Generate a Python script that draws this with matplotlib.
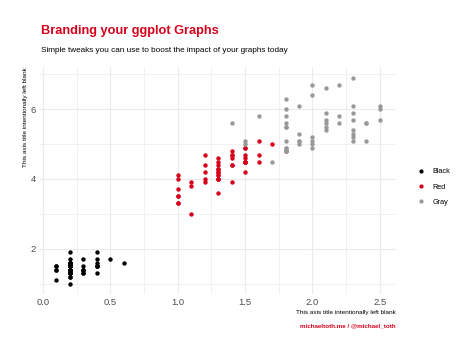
import matplotlib
matplotlib.use("Agg")
import matplotlib.pyplot as plt
from matplotlib.ticker import MultipleLocator
from matplotlib.lines import Line2D

plt.rcParams['font.family'] = ['Liberation Sans', 'DejaVu Sans']

# iris petal width (x) / petal length (y)
setosa_w = [0.2, 0.2, 0.2, 0.2, 0.2, 0.4, 0.3, 0.2, 0.2, 0.1, 0.2, 0.2, 0.1, 0.1, 0.2, 0.4, 0.4,
            0.3, 0.3, 0.3, 0.2, 0.4, 0.2, 0.5, 0.2, 0.2, 0.4, 0.2, 0.2, 0.2, 0.2, 0.4, 0.1, 0.2,
            0.2, 0.2, 0.2, 0.1, 0.2, 0.2, 0.3, 0.3, 0.2, 0.6, 0.4, 0.3, 0.2, 0.2, 0.2, 0.2]
setosa_l = [1.4, 1.4, 1.3, 1.5, 1.4, 1.7, 1.4, 1.5, 1.4, 1.5, 1.5, 1.6, 1.4, 1.1, 1.2, 1.5, 1.3,
            1.4, 1.7, 1.5, 1.7, 1.5, 1.0, 1.7, 1.9, 1.6, 1.6, 1.5, 1.4, 1.6, 1.6, 1.5, 1.5, 1.4,
            1.5, 1.2, 1.3, 1.4, 1.3, 1.5, 1.3, 1.3, 1.3, 1.6, 1.9, 1.4, 1.6, 1.4, 1.5, 1.4]
versi_w = [1.4, 1.5, 1.5, 1.3, 1.5, 1.3, 1.6, 1.0, 1.3, 1.4, 1.0, 1.5, 1.0, 1.4, 1.3, 1.4, 1.5,
           1.0, 1.5, 1.1, 1.8, 1.3, 1.5, 1.2, 1.3, 1.4, 1.4, 1.7, 1.5, 1.0, 1.1, 1.0, 1.2, 1.6,
           1.5, 1.6, 1.5, 1.3, 1.3, 1.3, 1.2, 1.4, 1.2, 1.0, 1.3, 1.2, 1.3, 1.3, 1.1, 1.3]
versi_l = [4.7, 4.5, 4.9, 4.0, 4.6, 4.5, 4.7, 3.3, 4.6, 3.9, 3.5, 4.2, 4.0, 4.7, 3.6, 4.4, 4.5,
           4.1, 4.5, 3.9, 4.8, 4.0, 4.9, 4.7, 4.3, 4.4, 4.8, 5.0, 4.5, 3.5, 3.8, 3.7, 3.9, 5.1,
           4.5, 4.5, 4.7, 4.4, 4.1, 4.0, 4.4, 4.6, 4.0, 3.3, 4.2, 4.2, 4.2, 4.3, 3.0, 4.1]
virg_w = [2.5, 1.9, 2.1, 1.8, 2.2, 2.1, 1.7, 1.8, 1.8, 2.5, 2.0, 1.9, 2.1, 2.0, 2.4, 2.3, 1.8,
          2.2, 2.3, 1.5, 2.3, 2.0, 2.0, 1.8, 2.1, 1.8, 1.8, 1.8, 2.1, 1.6, 1.9, 2.0, 2.2, 1.5,
          1.4, 2.3, 2.4, 1.8, 1.8, 2.1, 2.4, 2.3, 1.9, 2.3, 2.5, 2.3, 1.9, 2.0, 2.3, 1.8]
virg_l = [6.0, 5.1, 5.9, 5.6, 5.8, 6.6, 4.5, 6.3, 5.8, 6.1, 5.1, 5.3, 5.5, 5.0, 5.1, 5.3, 5.5,
          6.7, 6.9, 5.0, 5.7, 4.9, 6.7, 4.9, 5.7, 6.0, 4.8, 4.9, 5.6, 5.8, 6.1, 6.4, 5.6, 5.1,
          5.6, 6.1, 5.6, 5.5, 4.8, 5.4, 5.6, 5.1, 5.1, 5.9, 5.7, 5.2, 5.0, 5.2, 5.4, 5.1]

labels = ["Black", "Red", "Gray"]
colors = ["#000000", "#d7001b", "#999999"]
red = "#d7001b"

fig = plt.figure(figsize=(4.74, 3.55), dpi=100)
ax = fig.add_axes([0.085, 0.171, 0.7505, 0.6397])

for (x, y), c in zip([(setosa_w, setosa_l), (versi_w, versi_l), (virg_w, virg_l)], colors):
    ax.scatter(x, y, s=10, color=c, linewidths=0, zorder=3)

ax.set_xlim(-0.02, 2.62)
ax.set_ylim(0.705, 7.195)
ax.xaxis.set_major_locator(MultipleLocator(0.5))
ax.xaxis.set_minor_locator(MultipleLocator(0.25))
ax.yaxis.set_major_locator(MultipleLocator(2))
ax.yaxis.set_minor_locator(MultipleLocator(1))
ax.grid(which='major', color='#ebebeb', linewidth=0.8)
ax.grid(which='minor', color='#ebebeb', linewidth=0.5)
ax.set_axisbelow(True)
for s in ax.spines.values():
    s.set_visible(False)
ax.tick_params(which='both', length=0, labelsize=6.8, labelcolor='#4d4d4d', pad=3)
ax.set_xticks([0, 0.5, 1.0, 1.5, 2.0, 2.5])
ax.set_xticklabels(["0.0", "0.5", "1.0", "1.5", "2.0", "2.5"])

ax.set_xlabel("This axis title intentionally left blank", fontsize=4.6, loc='right', labelpad=2)
ax.set_ylabel("This axis title intentionally left blank", fontsize=4.6, loc='top', labelpad=2)

fig.text(0.086, 0.912, "Branding your ggplot Graphs", color=red, fontsize=9.2,
         fontweight='bold', ha='left', va='center')
fig.text(0.086, 0.859, "Simple tweaks you can use to boost the impact of your graphs today",
         color='black', fontsize=5.9, ha='left', va='center')
fig.text(0.8354, 0.082, "michaeltoth.me / @michael_toth", color=red, fontsize=4.5,
         fontweight='bold', ha='right', va='center')

handles = [Line2D([], [], marker='o', linestyle='', markersize=3, color=c, markeredgewidth=0)
           for c in colors]
fig.legend(handles, labels, loc='center left', bbox_to_anchor=(0.868, 0.473), frameon=False,
           fontsize=5.2, handlelength=0.8, handletextpad=1.2, labelspacing=1.15)

fig.savefig("out.png", dpi=100)
